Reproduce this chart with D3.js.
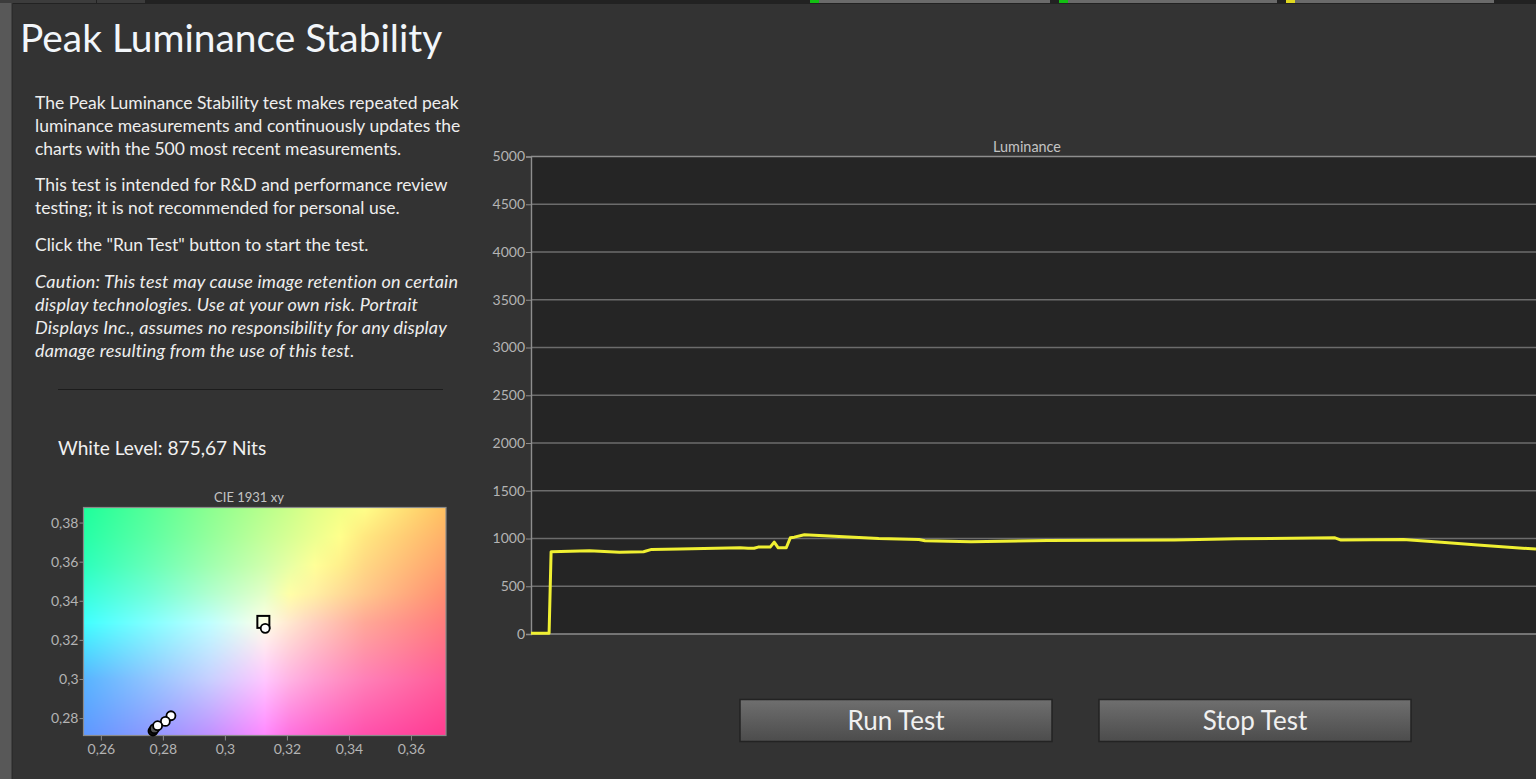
<!DOCTYPE html>
<html>
<head>
<meta charset="utf-8">
<title>Peak Luminance Stability</title>
<script src="https://cdn.jsdelivr.net/npm/d3@7"></script>
<style>
  html, body { margin: 0; padding: 0; background: #333333; overflow: hidden; }
  svg { display: block; }
  text { font-family: Lato, "Noto Sans", sans-serif; }
  .lum-axis text, .cie-axis text { fill: #b4b4b4; }
</style>
</head>
<body>
<div id="chart"></div>
<script>
// panel text
var titleText = "Peak Luminance Stability";
var bodyLines = [
    "The Peak Luminance Stability test makes repeated peak",
    "luminance measurements and continuously updates the",
    "charts with the 500 most recent measurements.",
    "This test is intended for R&D and performance review",
    "testing; it is not recommended for personal use.",
    "Click the \"Run Test\" button to start the test."
];
var cautionLines = [
    "Caution: This test may cause image retention on certain",
    "display technologies. Use at your own risk. Portrait",
    "Displays Inc., assumes no responsibility for any display",
    "damage resulting from the use of this test."
];
var whiteLevelText = "White Level: 875,67 Nits";
var buttonLabels = ["Run Test", "Stop Test"];

// luminance chart
var lumTicks = [0, 500, 1000, 1500, 2000, 2500, 3000, 3500, 4000, 4500, 5000];
var sampleIndex = [0, 9, 10, 29, 44, 56, 60, 74, 104, 108, 111, 113, 119, 121, 123, 127, 129, 131, 136,
    173, 193, 196, 219, 257, 320, 351, 400, 403, 434, 453, 471, 500];
var luminance = [8, 8, 861, 871, 855, 861, 886, 889, 903, 898, 898, 910, 910, 962, 903, 903, 1007, 1014, 1039,
    1001, 990, 976, 966, 980, 983, 997, 1007, 983, 990, 962, 931, 889];

// CIE chart
var cieXTicks = [0.26, 0.28, 0.3, 0.32, 0.34, 0.36];
var cieYTicks = [0.28, 0.3, 0.32, 0.34, 0.36, 0.38];
var targetX = [0.3124];
var targetY = [0.3292];
// oldest first, last one ends up on top
var pointX = [0.2768, 0.2773, 0.2826, 0.2808, 0.2783, 0.3130];
var pointY = [0.2734, 0.2746, 0.2812, 0.2783, 0.2761, 0.3259];
var pointFill = ["#111111", "#555555", "#ffffff", "#ffffff", "#ffffff", "#ffffff"];

// background colours of the xy plot, rows top to bottom
var gridX = [0.2544, 0.275, 0.295, 0.3127, 0.3208, 0.3289, 0.337, 0.3451, 0.3713];
var gridY = [0.3877, 0.373, 0.3583, 0.3437, 0.329, 0.30, 0.2711];
var gridColors = [
    ["#1eff9c", "#55ff98", "#8cff90", "#b8ff8c", "#ccff8a", "#e2ff88", "#f2ff86", "#ffff88", "#ffc060"],
    ["#26ffa8", "#5cffa4", "#94ff9c", "#c4ff98", "#d8ff94", "#ecff90", "#ffff8c", "#ffe880", "#ffb068"],
    ["#2cffbc", "#66ffb8", "#a0ffb0", "#d0ffac", "#e8ffa4", "#ffff98", "#fff08c", "#ffd884", "#ffa06c"],
    ["#38ffdc", "#70ffd8", "#b0ffd0", "#e4ffc8", "#ffffa8", "#fff0a4", "#ffdc98", "#ffc88c", "#ff8e70"],
    ["#40ffff", "#80ffff", "#c0ffff", "#ffffe8", "#ffe8d0", "#ffd0c0", "#ffbcac", "#ffa898", "#ff7c7c"],
    ["#58b4ff", "#90c4ff", "#c8d0ff", "#ffc8ff", "#ffb4e4", "#ffa0d4", "#ff90c4", "#ff80b8", "#ff5c98"],
    ["#5f98ff", "#8c98ff", "#c090ff", "#ff88ff", "#ff70e0", "#ff64cc", "#ff5abc", "#ff50ac", "#ff3c90"]
];

var width = 1536, height = 779;

var svg = d3.select("#chart").append("svg")
    .attr("width", width)
    .attr("height", height);

// window chrome
svg.append("rect").attr("width", width).attr("height", 4).attr("fill", "#222222");
svg.append("rect").attr("width", 12).attr("height", height).attr("fill", "#585858");
svg.append("rect").attr("x", 11.5).attr("width", 1.5).attr("y", 3).attr("height", height).attr("fill", "#2c2c2c");
svg.selectAll(".tab").data([[0, 96], [97, 48]]).enter().append("rect")
    .attr("x", function(d){ return d[0]; })
    .attr("width", function(d){ return d[1]; })
    .attr("height", 3)
    .attr("fill", "#3c3c3c");
var statusTabs = [[810, 240, "#12c012"], [1059, 218, "#12c012"], [1286, 208, "#e0d820"]];
statusTabs.forEach(function(t){
    svg.append("rect").attr("x", t[0]).attr("width", t[1]).attr("height", 3).attr("fill", "#6a6a6a");
    svg.append("rect").attr("x", t[0]).attr("width", 9).attr("height", 3).attr("fill", t[2]);
});

// left panel text
svg.append("text").attr("x", 20).attr("y", 52)
    .attr("font-size", 38.9).attr("fill", "#f2f6fa").text(titleText);

var bodyY = [109, 132, 155, 191, 214, 251];
bodyLines.forEach(function(line, i){
    svg.append("text").attr("x", 35).attr("y", bodyY[i])
        .attr("font-size", 17.5).attr("fill", "#eeeeee").text(line);
});
var cautionY = [288, 311, 334, 357];
cautionLines.forEach(function(line, i){
    svg.append("text").attr("x", 35).attr("y", cautionY[i])
        .attr("font-size", 18).attr("letter-spacing", 0.18)
        .attr("font-style", "italic").attr("fill", "#eeeeee").text(line);
});
svg.append("line").attr("x1", 58).attr("x2", 443).attr("y1", 389.5).attr("y2", 389.5)
    .attr("stroke", "#1c1c1c");
svg.append("text").attr("x", 58).attr("y", 455)
    .attr("font-size", 19.1).attr("fill", "#f0f0f0").text(whiteLevelText);

// luminance chart
var lum = { left: 531, right: 1536, top: 156.5, bottom: 634 };
var lumX = d3.scaleLinear().domain([0, 500]).range([lum.left, lum.right]);
var lumY = d3.scaleLinear().domain([0, 5000]).range([lum.bottom, lum.top]);

svg.append("rect")
    .attr("x", lum.left).attr("y", lum.top)
    .attr("width", lum.right - lum.left).attr("height", lum.bottom - lum.top)
    .attr("fill", "#252525");

svg.selectAll(".grid").data(lumTicks).enter().append("line")
    .attr("x1", lum.left).attr("x2", lum.right)
    .attr("y1", function(d){ return lumY(d); })
    .attr("y2", function(d){ return lumY(d); })
    .attr("stroke", function(d){ return (d === 0 || d === 5000) ? "#8e8e8e" : "#6c6c6c"; })
    .attr("stroke-width", 1.4);

var lumAxis = svg.append("g").attr("class", "lum-axis")
    .attr("transform", "translate(" + lum.left + ",0)")
    .call(d3.axisLeft(lumY).tickValues(lumTicks).tickSize(5).tickPadding(1).tickFormat(d3.format("d")));
lumAxis.selectAll("text").attr("font-size", 14).style("font-family", "Lato");
lumAxis.selectAll("line").attr("stroke", "#8e8e8e");
lumAxis.select(".domain").attr("stroke", "#8e8e8e").attr("stroke-width", 1.4);

svg.append("text").attr("x", 1027).attr("y", 152)
    .attr("text-anchor", "middle").attr("font-size", 14.4).attr("fill", "#c4c4c4").text("Luminance");

var lumLine = d3.line()
    .x(function(d){ return lumX(d); })
    .y(function(d, i){ return lumY(luminance[i]); });

svg.append("path")
    .attr("d", lumLine(sampleIndex))
    .attr("fill", "none")
    .attr("stroke", "#f0f032")
    .attr("stroke-width", 3)
    .attr("stroke-linejoin", "round");

// CIE chart
var cie = { left: 83.5, right: 446, top: 507.5, bottom: 735.5 };
var cieX = d3.scaleLinear().domain([gridX[0], gridX[gridX.length - 1]]).range([cie.left, cie.right]);
var cieY = d3.scaleLinear().domain([gridY[gridY.length - 1], gridY[0]]).range([cie.bottom, cie.top]);

// fill the plot pixel by pixel from the colour table
function drawGradient(){
    var w = Math.round(cie.right - cie.left), h = Math.round(cie.bottom - cie.top);
    var canvas = document.createElement("canvas");
    canvas.width = w; canvas.height = h;
    var ctx = canvas.getContext("2d");
    var img = ctx.createImageData(w, h);
    var colIdx = d3.scaleLinear().domain(gridX).range(d3.range(gridX.length));
    var rowIdx = d3.scaleLinear().domain(gridY).range(d3.range(gridY.length));
    var rgbGrid = gridColors.map(function(row){ return row.map(function(c){ return d3.rgb(c); }); });
    for (var py = 0; py < h; py = py + 1){
        var r = rowIdx(cieY.invert(cie.top + py));
        var r0 = Math.min(Math.floor(r), gridY.length - 2), fy = r - r0;
        for (var px = 0; px < w; px = px + 1){
            var c = colIdx(cieX.invert(cie.left + px));
            var c0 = Math.min(Math.floor(c), gridX.length - 2), fx = c - c0;
            var a = rgbGrid[r0][c0], b = rgbGrid[r0][c0 + 1], e = rgbGrid[r0 + 1][c0], f = rgbGrid[r0 + 1][c0 + 1];
            var k = (py * w + px) * 4;
            ["r", "g", "b"].forEach(function(ch, n){
                img.data[k + n] = (a[ch] * (1 - fx) + b[ch] * fx) * (1 - fy) + (e[ch] * (1 - fx) + f[ch] * fx) * fy;
            });
            img.data[k + 3] = 255;
        }
    }
    ctx.putImageData(img, 0, 0);
    return canvas.toDataURL();
}

svg.append("image")
    .attr("x", cie.left).attr("y", cie.top)
    .attr("width", cie.right - cie.left).attr("height", cie.bottom - cie.top)
    .attr("preserveAspectRatio", "none")
    .attr("href", drawGradient());

svg.append("rect")
    .attr("x", cie.left).attr("y", cie.top)
    .attr("width", cie.right - cie.left).attr("height", cie.bottom - cie.top)
    .attr("fill", "none").attr("stroke", "#8a8a8a").attr("stroke-width", 1.2);

var commaFormat = function(d){ return String(d).replace(".", ","); };

var cieAxisX = svg.append("g").attr("class", "cie-axis")
    .attr("transform", "translate(0," + cie.bottom + ")")
    .call(d3.axisBottom(cieX).tickValues(cieXTicks).tickSize(5).tickSizeOuter(0).tickPadding(4).tickFormat(commaFormat));
var cieAxisY = svg.append("g").attr("class", "cie-axis")
    .attr("transform", "translate(" + cie.left + ",0)")
    .call(d3.axisLeft(cieY).tickValues(cieYTicks).tickSize(4).tickSizeOuter(0).tickPadding(1).tickFormat(commaFormat));
[cieAxisX, cieAxisY].forEach(function(ax){
    ax.selectAll("text").attr("font-size", 14).style("font-family", "Lato");
    ax.selectAll("line").attr("stroke", "#8a8a8a");
    ax.select(".domain").attr("stroke", "none");
});

svg.append("text").attr("x", 249).attr("y", 502)
    .attr("text-anchor", "middle").attr("font-size", 13).attr("fill", "#c4c4c4").text("CIE 1931 xy");

svg.selectAll(".target").data(targetX).enter().append("rect")
    .attr("class", "target")
    .attr("x", function(d){ return cieX(d) - 6; })
    .attr("y", function(d, i){ return cieY(targetY[i]) - 6; })
    .attr("width", 12).attr("height", 12)
    .attr("fill", "none").attr("stroke", "#000000").attr("stroke-width", 2);

svg.selectAll(".point").data(pointX).enter().append("circle")
    .attr("class", "point")
    .attr("cx", function(d){ return cieX(d); })
    .attr("cy", function(d, i){ return cieY(pointY[i]); })
    .attr("r", 4.5)
    .attr("fill", function(d, i){ return pointFill[i]; })
    .attr("stroke", "#000000").attr("stroke-width", 1.8);

// buttons
var defs = svg.append("defs");
var grad = defs.append("linearGradient").attr("id", "btn").attr("x1", 0).attr("x2", 0).attr("y1", 0).attr("y2", 1);
grad.append("stop").attr("offset", "0%").attr("stop-color", "#6f6f6f");
grad.append("stop").attr("offset", "100%").attr("stop-color", "#4c4c4c");

var buttonX = d3.scalePoint().domain(buttonLabels).range([740, 1099]);
buttonLabels.forEach(function(label){
    svg.append("rect")
        .attr("x", buttonX(label)).attr("y", 699.5)
        .attr("width", 312).attr("height", 42)
        .attr("fill", "url(#btn)").attr("stroke", "#232323").attr("stroke-width", 1.5);
    svg.append("text")
        .attr("x", buttonX(label) + 156).attr("y", 730)
        .attr("text-anchor", "middle").attr("font-size", 26).attr("fill", "#f0f0f0").text(label);
});
</script>
</body>
</html>
